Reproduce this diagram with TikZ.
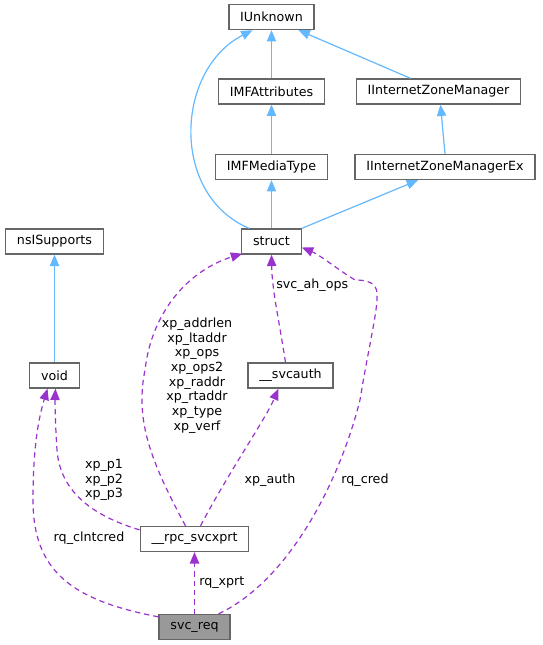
\documentclass[tikz,border=0pt]{standalone}
\usepackage{fontspec}
\setmainfont{DejaVu Sans}
\usetikzlibrary{arrows.meta, calc}
\definecolor{inhblue}{HTML}{63B8FF}
\definecolor{usepurple}{HTML}{9A32CD}
\definecolor{boxgray}{HTML}{666666}
\definecolor{curgray}{HTML}{999999}

\begin{document}
\begin{tikzpicture}[
            font=\fontsize{9.5}{11}\selectfont,
            x=0.75pt, y=-0.75pt,
            cls/.style    ={draw=boxgray, line width=1pt, fill=white,
                            minimum height=18.75pt, inner xsep=8.5pt, inner ysep=0pt},
            curcls/.style ={cls, fill=curgray},
            inh/.style    ={-{Triangle[length=8.5pt, width=7pt]}, draw=inhblue, line width=0.9pt},
            uses/.style   ={-{Triangle[length=8.5pt, width=7pt]}, draw=usepurple, line width=0.9pt,
                            dash pattern=on 4pt off 3pt},
            elbl/.style   ={inner sep=0pt, align=center}
        ]
        \useasboundingbox (0,0) rectangle (542,645);

        % class boxes
        \node[cls] (iunknown) at (271.5,17)  {IUnknown};
        \node[cls] (imfattr)  at (271.5,91.5)  {IMFAttributes};
        \node[cls] (izm)      at (438.5,91.5)  {IInternetZoneManager};
        \node[cls] (imfmedia) at (271.5,167) {IMFMediaType};
        \node[cls] (izmex)    at (445,167)   {IInternetZoneManagerEx};
        \node[cls] (struct)   at (271.5,241.5) {struct};
        \node[cls] (nssup)    at (54.5,241.5)  {nsISupports};
        \node[cls] (void)     at (54.5,375.5)  {void};
        \node[cls] (svcauth)  at (290.5,375.5) {\_\_svcauth};
        \node[cls] (rpcxprt)  at (194.5,539) {\_\_rpc\_svcxprt};
        \node[curcls] (svcreq) at (194.5,627) {svc\_req};

        % inheritance
        \draw[inh] (imfattr) -- (iunknown);
        \draw[inh] ($(izm.north)+(-28,0)$) -- ($(iunknown.south)+(27,0)$);
        \draw[inh] ($(struct.north west)+(8,0)$) .. controls (170,195) and (175,70)
              .. ($(iunknown.south)+(-19,0)$);
        \draw[inh] (imfmedia) -- (imfattr);
        \draw[inh] (izmex.north) -- ($(izm.south)+(2,0)$);
        \draw[inh] (struct) -- (imfmedia);
        \draw[inh] (struct.north east) -- ($(izmex.south)+(-27,0)$);
        \draw[inh] (void) -- (nssup);

        % members
        \draw[uses] ($(rpcxprt.north)+(-9,0)$) .. controls (150,460) and (135,420)
              .. (145,370) .. controls (152,310) and (190,270) .. ($(struct.south west)+(1,-1)$);
        \node[elbl] (lxp) at (197,375.5)
              {xp\_addrlen\\xp\_ltaddr\\xp\_ops\\xp\_ops2\\xp\_raddr\\xp\_rtaddr\\xp\_type\\xp\_verf};

        \draw[uses] ($(svcauth.north)+(-5,0)$) .. controls (279,320) and (272,290) .. (struct.south);
        \node[elbl, anchor=west] (lah) at (276,285) {svc\_ah\_ops};

        \draw[uses] ($(rpcxprt.north)+(6,0)$) .. controls (230,470) and (265,420)
              .. ($(svcauth.south)+(-12,0)$);
        \node[elbl] (lauth) at (270,480) {xp\_auth};

        \draw[uses] ($(svcreq.north east)+(-12,0)$) .. controls (290,580) and (340,480)
              .. (360,400) .. controls (368,350) and (378,310) .. (377,294)
              .. controls (377,282) and (366,280) .. (355,280)
              .. controls (340,271) and (320,255) .. ($(struct.east)+(0,6)$);
        \node[elbl] (lcred) at (365,480) {rq\_cred};

        \draw[uses] ($(svcreq.north west)+(0,3)$) .. controls (70,600) and (33,570)
              .. (33,500) .. controls (33,450) and (38,420) .. ($(void.south)+(-7,0)$);
        \node[elbl] (lclnt) at (89,538) {rq\_clntcred};

        \draw[uses] ($(rpcxprt.north west)+(0,4)$) .. controls (90,515) and (60,490)
              .. (57,450) .. controls (55,420) and (55,400) .. ($(void.south)+(1,0)$);
        \node[elbl] (lp) at (104,480) {xp\_p1\\xp\_p2\\xp\_p3};

        \draw[uses] (svcreq) -- (rpcxprt);
        \node[elbl, anchor=west] (lxprt) at (199,583) {rq\_xprt};
\end{tikzpicture}
\end{document}
